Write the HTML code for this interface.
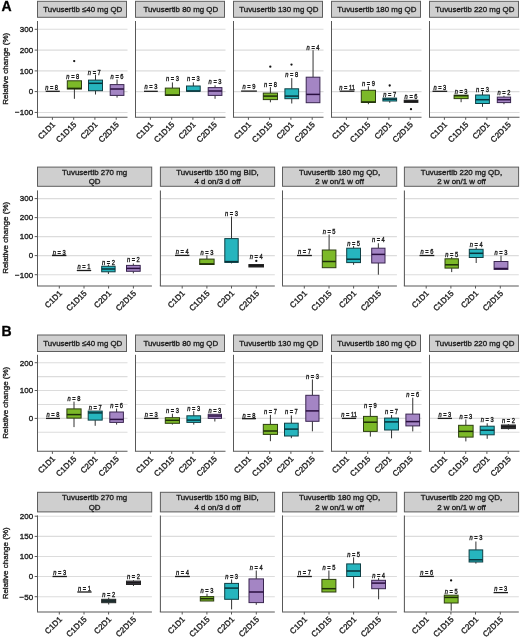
<!DOCTYPE html>
<html><head><meta charset="utf-8"><style>
html,body{margin:0;padding:0;background:#fff;width:520px;height:637px;overflow:hidden}
text{font-family:"Liberation Sans", sans-serif;stroke:#222;stroke-width:0.35px;paint-order:stroke}
</style></head><body>
<svg width="520" height="637" viewBox="0 0 520 637" style="display:block;will-change:transform">
<rect x="0" y="0" width="520" height="637" fill="#ffffff"/>
<text x="1.5" y="10.9" font-family='"Liberation Sans", sans-serif' font-weight="bold" font-size="14" fill="#000">A</text>
<text x="1.5" y="335.9" font-family='"Liberation Sans", sans-serif' font-weight="bold" font-size="14" fill="#000">B</text>
<rect x="37.50" y="1.30" width="89.00" height="16.00" fill="#cfcfcf" stroke="#5e5e5e" stroke-width="1"/>
<text x="82.80" y="11.80" text-anchor="middle" font-family='"Liberation Sans", sans-serif' font-size="7.9" fill="#1e1e1e">Tuvusertib ≤40 mg QD</text>
<line x1="37.50" y1="29.30" x2="127.50" y2="29.30" stroke="#dcdcdc" stroke-width="1.1"/>
<line x1="37.50" y1="50.10" x2="127.50" y2="50.10" stroke="#dcdcdc" stroke-width="1.1"/>
<line x1="37.50" y1="70.90" x2="127.50" y2="70.90" stroke="#dcdcdc" stroke-width="1.1"/>
<line x1="37.50" y1="91.60" x2="127.50" y2="91.60" stroke="#dcdcdc" stroke-width="1.1"/>
<line x1="37.50" y1="112.45" x2="127.50" y2="112.45" stroke="#dcdcdc" stroke-width="1.1"/>
<line x1="45.70" y1="91.30" x2="59.80" y2="91.30" stroke="#1a1a1a" stroke-width="1.3"/>
<text transform="translate(51.60,89.70) scale(0.87,1)" text-anchor="middle" font-family='"Liberation Sans", sans-serif' font-size="6.6" fill="#1e1e1e"><tspan font-style="italic">n</tspan> = 8</text>
<line x1="74.40" y1="89.00" x2="74.40" y2="98.80" stroke="#333" stroke-width="1"/>
<rect x="67.30" y="80.80" width="14.20" height="8.20" fill="#7cb928" stroke="#2c3d10" stroke-width="1"/>
<line x1="67.30" y1="88.40" x2="81.50" y2="88.40" stroke="#1e2e08" stroke-width="1.5"/>
<circle cx="74.20" cy="61.10" r="1.15" fill="#111"/>
<text transform="translate(72.80,79.20) scale(0.87,1)" text-anchor="middle" font-family='"Liberation Sans", sans-serif' font-size="6.6" fill="#1e1e1e"><tspan font-style="italic">n</tspan> = 8</text>
<line x1="95.50" y1="74.60" x2="95.50" y2="80.10" stroke="#333" stroke-width="1"/>
<line x1="95.50" y1="90.70" x2="95.50" y2="94.50" stroke="#333" stroke-width="1"/>
<rect x="88.50" y="80.10" width="14.00" height="10.60" fill="#26b5be" stroke="#0f3f44" stroke-width="1"/>
<line x1="88.50" y1="83.30" x2="102.50" y2="83.30" stroke="#08333a" stroke-width="1.5"/>
<text transform="translate(94.30,74.50) scale(0.87,1)" text-anchor="middle" font-family='"Liberation Sans", sans-serif' font-size="6.6" fill="#1e1e1e"><tspan font-style="italic">n</tspan> = 7</text>
<line x1="117.05" y1="79.40" x2="117.05" y2="84.60" stroke="#333" stroke-width="1"/>
<line x1="117.05" y1="95.40" x2="117.05" y2="97.60" stroke="#333" stroke-width="1"/>
<rect x="110.20" y="84.60" width="13.70" height="10.80" fill="#a485c4" stroke="#3a2650" stroke-width="1"/>
<line x1="110.20" y1="89.00" x2="123.90" y2="89.00" stroke="#2a0f40" stroke-width="1.5"/>
<text transform="translate(117.05,79.20) scale(0.87,1)" text-anchor="middle" font-family='"Liberation Sans", sans-serif' font-size="6.6" fill="#1e1e1e"><tspan font-style="italic">n</tspan> = 6</text>
<line x1="37.50" y1="21.00" x2="37.50" y2="117.20" stroke="#585858" stroke-width="1.05"/>
<line x1="36.95" y1="117.20" x2="127.50" y2="117.20" stroke="#585858" stroke-width="1.05"/>
<line x1="52.40" y1="117.20" x2="52.40" y2="119.80" stroke="#585858" stroke-width="1"/>
<text transform="translate(51.60,121.10) rotate(-45)" text-anchor="end" font-family='"Liberation Sans", sans-serif' font-size="8.05" fill="#1e1e1e" dy="0.72em">C1D1</text>
<line x1="73.70" y1="117.20" x2="73.70" y2="119.80" stroke="#585858" stroke-width="1"/>
<text transform="translate(72.90,121.10) rotate(-45)" text-anchor="end" font-family='"Liberation Sans", sans-serif' font-size="8.05" fill="#1e1e1e" dy="0.72em">C1D15</text>
<line x1="94.90" y1="117.20" x2="94.90" y2="119.80" stroke="#585858" stroke-width="1"/>
<text transform="translate(94.10,121.10) rotate(-45)" text-anchor="end" font-family='"Liberation Sans", sans-serif' font-size="8.05" fill="#1e1e1e" dy="0.72em">C2D1</text>
<line x1="116.20" y1="117.20" x2="116.20" y2="119.80" stroke="#585858" stroke-width="1"/>
<text transform="translate(115.40,121.10) rotate(-45)" text-anchor="end" font-family='"Liberation Sans", sans-serif' font-size="8.05" fill="#1e1e1e" dy="0.72em">C2D15</text>
<line x1="34.70" y1="29.30" x2="37.50" y2="29.30" stroke="#585858" stroke-width="1"/>
<text x="33.10" y="32.15" text-anchor="end" font-family='"Liberation Sans", sans-serif' font-size="8.0" fill="#1e1e1e">300</text>
<line x1="34.70" y1="50.10" x2="37.50" y2="50.10" stroke="#585858" stroke-width="1"/>
<text x="33.10" y="52.95" text-anchor="end" font-family='"Liberation Sans", sans-serif' font-size="8.0" fill="#1e1e1e">200</text>
<line x1="34.70" y1="70.90" x2="37.50" y2="70.90" stroke="#585858" stroke-width="1"/>
<text x="33.10" y="73.75" text-anchor="end" font-family='"Liberation Sans", sans-serif' font-size="8.0" fill="#1e1e1e">100</text>
<line x1="34.70" y1="91.60" x2="37.50" y2="91.60" stroke="#585858" stroke-width="1"/>
<text x="33.10" y="94.45" text-anchor="end" font-family='"Liberation Sans", sans-serif' font-size="8.0" fill="#1e1e1e">0</text>
<line x1="34.70" y1="112.45" x2="37.50" y2="112.45" stroke="#585858" stroke-width="1"/>
<text x="33.10" y="115.30" text-anchor="end" font-family='"Liberation Sans", sans-serif' font-size="8.0" fill="#1e1e1e">−100</text>
<text transform="translate(8.1,68.80) rotate(-90)" text-anchor="middle" font-family='"Liberation Sans", sans-serif' font-size="8.0" fill="#1e1e1e">Relative change (%)</text>
<rect x="135.50" y="1.30" width="89.00" height="16.00" fill="#cfcfcf" stroke="#5e5e5e" stroke-width="1"/>
<text x="180.80" y="11.80" text-anchor="middle" font-family='"Liberation Sans", sans-serif' font-size="7.9" fill="#1e1e1e">Tuvusertib 80 mg QD</text>
<line x1="135.50" y1="29.30" x2="225.50" y2="29.30" stroke="#dcdcdc" stroke-width="1.1"/>
<line x1="135.50" y1="50.10" x2="225.50" y2="50.10" stroke="#dcdcdc" stroke-width="1.1"/>
<line x1="135.50" y1="70.90" x2="225.50" y2="70.90" stroke="#dcdcdc" stroke-width="1.1"/>
<line x1="135.50" y1="91.60" x2="225.50" y2="91.60" stroke="#dcdcdc" stroke-width="1.1"/>
<line x1="135.50" y1="112.45" x2="225.50" y2="112.45" stroke="#dcdcdc" stroke-width="1.1"/>
<line x1="144.00" y1="91.30" x2="157.80" y2="91.30" stroke="#1a1a1a" stroke-width="1.3"/>
<text transform="translate(150.90,89.30) scale(0.87,1)" text-anchor="middle" font-family='"Liberation Sans", sans-serif' font-size="6.6" fill="#1e1e1e"><tspan font-style="italic">n</tspan> = 3</text>
<line x1="172.40" y1="82.40" x2="172.40" y2="88.10" stroke="#333" stroke-width="1"/>
<rect x="165.30" y="88.10" width="14.20" height="7.30" fill="#7cb928" stroke="#2c3d10" stroke-width="1"/>
<line x1="165.30" y1="95.00" x2="179.50" y2="95.00" stroke="#1e2e08" stroke-width="1.5"/>
<text transform="translate(172.40,80.70) scale(0.87,1)" text-anchor="middle" font-family='"Liberation Sans", sans-serif' font-size="6.6" fill="#1e1e1e"><tspan font-style="italic">n</tspan> = 3</text>
<line x1="193.35" y1="82.40" x2="193.35" y2="86.00" stroke="#333" stroke-width="1"/>
<rect x="186.50" y="86.00" width="13.70" height="5.20" fill="#26b5be" stroke="#0f3f44" stroke-width="1"/>
<line x1="186.50" y1="91.00" x2="200.20" y2="91.00" stroke="#08333a" stroke-width="1.5"/>
<text transform="translate(193.35,81.30) scale(0.87,1)" text-anchor="middle" font-family='"Liberation Sans", sans-serif' font-size="6.6" fill="#1e1e1e"><tspan font-style="italic">n</tspan> = 3</text>
<line x1="215.05" y1="85.30" x2="215.05" y2="87.60" stroke="#333" stroke-width="1"/>
<line x1="215.05" y1="95.40" x2="215.05" y2="98.80" stroke="#333" stroke-width="1"/>
<rect x="208.20" y="87.60" width="13.70" height="7.80" fill="#a485c4" stroke="#3a2650" stroke-width="1"/>
<line x1="208.20" y1="91.00" x2="221.90" y2="91.00" stroke="#2a0f40" stroke-width="1.5"/>
<text transform="translate(215.05,84.30) scale(0.87,1)" text-anchor="middle" font-family='"Liberation Sans", sans-serif' font-size="6.6" fill="#1e1e1e"><tspan font-style="italic">n</tspan> = 3</text>
<line x1="135.50" y1="21.00" x2="135.50" y2="117.20" stroke="#585858" stroke-width="1.05"/>
<line x1="134.95" y1="117.20" x2="225.50" y2="117.20" stroke="#585858" stroke-width="1.05"/>
<line x1="150.40" y1="117.20" x2="150.40" y2="119.80" stroke="#585858" stroke-width="1"/>
<text transform="translate(149.60,121.10) rotate(-45)" text-anchor="end" font-family='"Liberation Sans", sans-serif' font-size="8.05" fill="#1e1e1e" dy="0.72em">C1D1</text>
<line x1="171.70" y1="117.20" x2="171.70" y2="119.80" stroke="#585858" stroke-width="1"/>
<text transform="translate(170.90,121.10) rotate(-45)" text-anchor="end" font-family='"Liberation Sans", sans-serif' font-size="8.05" fill="#1e1e1e" dy="0.72em">C1D15</text>
<line x1="192.90" y1="117.20" x2="192.90" y2="119.80" stroke="#585858" stroke-width="1"/>
<text transform="translate(192.10,121.10) rotate(-45)" text-anchor="end" font-family='"Liberation Sans", sans-serif' font-size="8.05" fill="#1e1e1e" dy="0.72em">C2D1</text>
<line x1="214.20" y1="117.20" x2="214.20" y2="119.80" stroke="#585858" stroke-width="1"/>
<text transform="translate(213.40,121.10) rotate(-45)" text-anchor="end" font-family='"Liberation Sans", sans-serif' font-size="8.05" fill="#1e1e1e" dy="0.72em">C2D15</text>
<rect x="233.50" y="1.30" width="89.00" height="16.00" fill="#cfcfcf" stroke="#5e5e5e" stroke-width="1"/>
<text x="278.80" y="11.80" text-anchor="middle" font-family='"Liberation Sans", sans-serif' font-size="7.9" fill="#1e1e1e">Tuvusertib 130 mg QD</text>
<line x1="233.50" y1="29.30" x2="323.50" y2="29.30" stroke="#dcdcdc" stroke-width="1.1"/>
<line x1="233.50" y1="50.10" x2="323.50" y2="50.10" stroke="#dcdcdc" stroke-width="1.1"/>
<line x1="233.50" y1="70.90" x2="323.50" y2="70.90" stroke="#dcdcdc" stroke-width="1.1"/>
<line x1="233.50" y1="91.60" x2="323.50" y2="91.60" stroke="#dcdcdc" stroke-width="1.1"/>
<line x1="233.50" y1="112.45" x2="323.50" y2="112.45" stroke="#dcdcdc" stroke-width="1.1"/>
<line x1="241.10" y1="91.10" x2="256.90" y2="91.10" stroke="#1a1a1a" stroke-width="1.3"/>
<text transform="translate(249.00,89.40) scale(0.87,1)" text-anchor="middle" font-family='"Liberation Sans", sans-serif' font-size="6.6" fill="#1e1e1e"><tspan font-style="italic">n</tspan> = 9</text>
<line x1="270.40" y1="87.10" x2="270.40" y2="93.10" stroke="#333" stroke-width="1"/>
<line x1="270.40" y1="99.60" x2="270.40" y2="102.30" stroke="#333" stroke-width="1"/>
<rect x="263.30" y="93.10" width="14.20" height="6.50" fill="#7cb928" stroke="#2c3d10" stroke-width="1"/>
<line x1="263.30" y1="96.10" x2="277.50" y2="96.10" stroke="#1e2e08" stroke-width="1.5"/>
<circle cx="270.30" cy="66.70" r="1.15" fill="#111"/>
<text transform="translate(270.40,86.50) scale(0.87,1)" text-anchor="middle" font-family='"Liberation Sans", sans-serif' font-size="6.6" fill="#1e1e1e"><tspan font-style="italic">n</tspan> = 8</text>
<line x1="291.75" y1="78.10" x2="291.75" y2="88.80" stroke="#333" stroke-width="1"/>
<line x1="291.75" y1="98.70" x2="291.75" y2="103.50" stroke="#333" stroke-width="1"/>
<rect x="284.90" y="88.80" width="13.70" height="9.90" fill="#26b5be" stroke="#0f3f44" stroke-width="1"/>
<line x1="284.90" y1="96.10" x2="298.60" y2="96.10" stroke="#08333a" stroke-width="1.5"/>
<circle cx="291.50" cy="64.60" r="1.15" fill="#111"/>
<text transform="translate(291.75,76.90) scale(0.87,1)" text-anchor="middle" font-family='"Liberation Sans", sans-serif' font-size="6.6" fill="#1e1e1e"><tspan font-style="italic">n</tspan> = 8</text>
<line x1="313.05" y1="50.20" x2="313.05" y2="77.20" stroke="#333" stroke-width="1"/>
<rect x="306.20" y="77.20" width="13.70" height="25.50" fill="#a485c4" stroke="#3a2650" stroke-width="1"/>
<line x1="306.20" y1="94.40" x2="319.90" y2="94.40" stroke="#2a0f40" stroke-width="1.5"/>
<text transform="translate(313.05,49.60) scale(0.87,1)" text-anchor="middle" font-family='"Liberation Sans", sans-serif' font-size="6.6" fill="#1e1e1e"><tspan font-style="italic">n</tspan> = 4</text>
<line x1="233.50" y1="21.00" x2="233.50" y2="117.20" stroke="#585858" stroke-width="1.05"/>
<line x1="232.95" y1="117.20" x2="323.50" y2="117.20" stroke="#585858" stroke-width="1.05"/>
<line x1="248.40" y1="117.20" x2="248.40" y2="119.80" stroke="#585858" stroke-width="1"/>
<text transform="translate(247.60,121.10) rotate(-45)" text-anchor="end" font-family='"Liberation Sans", sans-serif' font-size="8.05" fill="#1e1e1e" dy="0.72em">C1D1</text>
<line x1="269.70" y1="117.20" x2="269.70" y2="119.80" stroke="#585858" stroke-width="1"/>
<text transform="translate(268.90,121.10) rotate(-45)" text-anchor="end" font-family='"Liberation Sans", sans-serif' font-size="8.05" fill="#1e1e1e" dy="0.72em">C1D15</text>
<line x1="290.90" y1="117.20" x2="290.90" y2="119.80" stroke="#585858" stroke-width="1"/>
<text transform="translate(290.10,121.10) rotate(-45)" text-anchor="end" font-family='"Liberation Sans", sans-serif' font-size="8.05" fill="#1e1e1e" dy="0.72em">C2D1</text>
<line x1="312.20" y1="117.20" x2="312.20" y2="119.80" stroke="#585858" stroke-width="1"/>
<text transform="translate(311.40,121.10) rotate(-45)" text-anchor="end" font-family='"Liberation Sans", sans-serif' font-size="8.05" fill="#1e1e1e" dy="0.72em">C2D15</text>
<rect x="331.50" y="1.30" width="89.00" height="16.00" fill="#cfcfcf" stroke="#5e5e5e" stroke-width="1"/>
<text x="376.80" y="11.80" text-anchor="middle" font-family='"Liberation Sans", sans-serif' font-size="7.9" fill="#1e1e1e">Tuvusertib 180 mg QD</text>
<line x1="331.50" y1="29.30" x2="421.50" y2="29.30" stroke="#dcdcdc" stroke-width="1.1"/>
<line x1="331.50" y1="50.10" x2="421.50" y2="50.10" stroke="#dcdcdc" stroke-width="1.1"/>
<line x1="331.50" y1="70.90" x2="421.50" y2="70.90" stroke="#dcdcdc" stroke-width="1.1"/>
<line x1="331.50" y1="91.60" x2="421.50" y2="91.60" stroke="#dcdcdc" stroke-width="1.1"/>
<line x1="331.50" y1="112.45" x2="421.50" y2="112.45" stroke="#dcdcdc" stroke-width="1.1"/>
<line x1="339.70" y1="91.20" x2="354.40" y2="91.20" stroke="#1a1a1a" stroke-width="1.3"/>
<text transform="translate(347.05,90.00) scale(0.87,1)" text-anchor="middle" font-family='"Liberation Sans", sans-serif' font-size="6.6" fill="#1e1e1e"><tspan font-style="italic">n</tspan> = 11</text>
<line x1="368.40" y1="86.30" x2="368.40" y2="90.30" stroke="#333" stroke-width="1"/>
<line x1="368.40" y1="102.40" x2="368.40" y2="104.20" stroke="#333" stroke-width="1"/>
<rect x="361.30" y="90.30" width="14.20" height="12.10" fill="#7cb928" stroke="#2c3d10" stroke-width="1"/>
<line x1="361.30" y1="102.00" x2="375.50" y2="102.00" stroke="#1e2e08" stroke-width="1.5"/>
<text transform="translate(368.40,86.00) scale(0.87,1)" text-anchor="middle" font-family='"Liberation Sans", sans-serif' font-size="6.6" fill="#1e1e1e"><tspan font-style="italic">n</tspan> = 9</text>
<line x1="389.75" y1="101.00" x2="389.75" y2="102.80" stroke="#333" stroke-width="1"/>
<rect x="382.90" y="98.10" width="13.70" height="2.90" fill="#26b5be" stroke="#0f3f44" stroke-width="1"/>
<line x1="382.90" y1="99.20" x2="396.60" y2="99.20" stroke="#08333a" stroke-width="1.5"/>
<circle cx="389.70" cy="85.50" r="1.15" fill="#111"/>
<text transform="translate(389.75,96.90) scale(0.87,1)" text-anchor="middle" font-family='"Liberation Sans", sans-serif' font-size="6.6" fill="#1e1e1e"><tspan font-style="italic">n</tspan> = 7</text>
<rect x="404.20" y="100.20" width="13.70" height="2.20" fill="#2e2e34" stroke="#262626" stroke-width="1"/>
<line x1="404.20" y1="101.30" x2="417.90" y2="101.30" stroke="#1a1a1a" stroke-width="1.5"/>
<circle cx="411.00" cy="109.20" r="1.15" fill="#111"/>
<text transform="translate(411.05,99.00) scale(0.87,1)" text-anchor="middle" font-family='"Liberation Sans", sans-serif' font-size="6.6" fill="#1e1e1e"><tspan font-style="italic">n</tspan> = 6</text>
<line x1="331.50" y1="21.00" x2="331.50" y2="117.20" stroke="#585858" stroke-width="1.05"/>
<line x1="330.95" y1="117.20" x2="421.50" y2="117.20" stroke="#585858" stroke-width="1.05"/>
<line x1="346.40" y1="117.20" x2="346.40" y2="119.80" stroke="#585858" stroke-width="1"/>
<text transform="translate(345.60,121.10) rotate(-45)" text-anchor="end" font-family='"Liberation Sans", sans-serif' font-size="8.05" fill="#1e1e1e" dy="0.72em">C1D1</text>
<line x1="367.70" y1="117.20" x2="367.70" y2="119.80" stroke="#585858" stroke-width="1"/>
<text transform="translate(366.90,121.10) rotate(-45)" text-anchor="end" font-family='"Liberation Sans", sans-serif' font-size="8.05" fill="#1e1e1e" dy="0.72em">C1D15</text>
<line x1="388.90" y1="117.20" x2="388.90" y2="119.80" stroke="#585858" stroke-width="1"/>
<text transform="translate(388.10,121.10) rotate(-45)" text-anchor="end" font-family='"Liberation Sans", sans-serif' font-size="8.05" fill="#1e1e1e" dy="0.72em">C2D1</text>
<line x1="410.20" y1="117.20" x2="410.20" y2="119.80" stroke="#585858" stroke-width="1"/>
<text transform="translate(409.40,121.10) rotate(-45)" text-anchor="end" font-family='"Liberation Sans", sans-serif' font-size="8.05" fill="#1e1e1e" dy="0.72em">C2D15</text>
<rect x="429.50" y="1.30" width="89.00" height="16.00" fill="#cfcfcf" stroke="#5e5e5e" stroke-width="1"/>
<text x="474.80" y="11.80" text-anchor="middle" font-family='"Liberation Sans", sans-serif' font-size="7.9" fill="#1e1e1e">Tuvusertib 220 mg QD</text>
<line x1="429.50" y1="29.30" x2="519.50" y2="29.30" stroke="#dcdcdc" stroke-width="1.1"/>
<line x1="429.50" y1="50.10" x2="519.50" y2="50.10" stroke="#dcdcdc" stroke-width="1.1"/>
<line x1="429.50" y1="70.90" x2="519.50" y2="70.90" stroke="#dcdcdc" stroke-width="1.1"/>
<line x1="429.50" y1="91.60" x2="519.50" y2="91.60" stroke="#dcdcdc" stroke-width="1.1"/>
<line x1="429.50" y1="112.45" x2="519.50" y2="112.45" stroke="#dcdcdc" stroke-width="1.1"/>
<line x1="432.50" y1="91.30" x2="447.20" y2="91.30" stroke="#1a1a1a" stroke-width="1.3"/>
<text transform="translate(439.85,89.80) scale(0.87,1)" text-anchor="middle" font-family='"Liberation Sans", sans-serif' font-size="6.6" fill="#1e1e1e"><tspan font-style="italic">n</tspan> = 3</text>
<line x1="461.10" y1="98.60" x2="461.10" y2="102.20" stroke="#333" stroke-width="1"/>
<rect x="454.10" y="95.20" width="14.00" height="3.40" fill="#7cb928" stroke="#2c3d10" stroke-width="1"/>
<line x1="454.10" y1="95.70" x2="468.10" y2="95.70" stroke="#1e2e08" stroke-width="1.5"/>
<text transform="translate(461.10,94.10) scale(0.87,1)" text-anchor="middle" font-family='"Liberation Sans", sans-serif' font-size="6.6" fill="#1e1e1e"><tspan font-style="italic">n</tspan> = 3</text>
<line x1="482.50" y1="91.50" x2="482.50" y2="95.00" stroke="#333" stroke-width="1"/>
<line x1="482.50" y1="103.50" x2="482.50" y2="106.80" stroke="#333" stroke-width="1"/>
<rect x="475.60" y="95.00" width="13.80" height="8.50" fill="#26b5be" stroke="#0f3f44" stroke-width="1"/>
<line x1="475.60" y1="99.70" x2="489.40" y2="99.70" stroke="#08333a" stroke-width="1.5"/>
<text transform="translate(482.50,91.50) scale(0.87,1)" text-anchor="middle" font-family='"Liberation Sans", sans-serif' font-size="6.6" fill="#1e1e1e"><tspan font-style="italic">n</tspan> = 3</text>
<line x1="503.95" y1="95.70" x2="503.95" y2="97.10" stroke="#333" stroke-width="1"/>
<line x1="503.95" y1="102.60" x2="503.95" y2="104.20" stroke="#333" stroke-width="1"/>
<rect x="497.30" y="97.10" width="13.30" height="5.50" fill="#a485c4" stroke="#3a2650" stroke-width="1"/>
<line x1="497.30" y1="99.70" x2="510.60" y2="99.70" stroke="#2a0f40" stroke-width="1.5"/>
<text transform="translate(503.95,95.20) scale(0.87,1)" text-anchor="middle" font-family='"Liberation Sans", sans-serif' font-size="6.6" fill="#1e1e1e"><tspan font-style="italic">n</tspan> = 2</text>
<line x1="429.50" y1="21.00" x2="429.50" y2="117.20" stroke="#585858" stroke-width="1.05"/>
<line x1="428.95" y1="117.20" x2="519.50" y2="117.20" stroke="#585858" stroke-width="1.05"/>
<line x1="444.40" y1="117.20" x2="444.40" y2="119.80" stroke="#585858" stroke-width="1"/>
<text transform="translate(443.60,121.10) rotate(-45)" text-anchor="end" font-family='"Liberation Sans", sans-serif' font-size="8.05" fill="#1e1e1e" dy="0.72em">C1D1</text>
<line x1="465.70" y1="117.20" x2="465.70" y2="119.80" stroke="#585858" stroke-width="1"/>
<text transform="translate(464.90,121.10) rotate(-45)" text-anchor="end" font-family='"Liberation Sans", sans-serif' font-size="8.05" fill="#1e1e1e" dy="0.72em">C1D15</text>
<line x1="486.90" y1="117.20" x2="486.90" y2="119.80" stroke="#585858" stroke-width="1"/>
<text transform="translate(486.10,121.10) rotate(-45)" text-anchor="end" font-family='"Liberation Sans", sans-serif' font-size="8.05" fill="#1e1e1e" dy="0.72em">C2D1</text>
<line x1="508.20" y1="117.20" x2="508.20" y2="119.80" stroke="#585858" stroke-width="1"/>
<text transform="translate(507.40,121.10) rotate(-45)" text-anchor="end" font-family='"Liberation Sans", sans-serif' font-size="8.05" fill="#1e1e1e" dy="0.72em">C2D15</text>
<rect x="37.50" y="167.10" width="114.20" height="19.20" fill="#cfcfcf" stroke="#5e5e5e" stroke-width="1"/>
<text x="94.60" y="174.90" text-anchor="middle" font-family='"Liberation Sans", sans-serif' font-size="7.9" fill="#1e1e1e">Tuvusertib 270 mg</text>
<text x="94.60" y="184.30" text-anchor="middle" font-family='"Liberation Sans", sans-serif' font-size="7.9" fill="#1e1e1e">QD</text>
<line x1="37.50" y1="198.60" x2="151.90" y2="198.60" stroke="#dcdcdc" stroke-width="1.1"/>
<line x1="37.50" y1="217.60" x2="151.90" y2="217.60" stroke="#dcdcdc" stroke-width="1.1"/>
<line x1="37.50" y1="236.60" x2="151.90" y2="236.60" stroke="#dcdcdc" stroke-width="1.1"/>
<line x1="37.50" y1="255.60" x2="151.90" y2="255.60" stroke="#dcdcdc" stroke-width="1.1"/>
<line x1="37.50" y1="274.70" x2="151.90" y2="274.70" stroke="#dcdcdc" stroke-width="1.1"/>
<line x1="52.00" y1="255.50" x2="66.40" y2="255.50" stroke="#1a1a1a" stroke-width="1.3"/>
<text transform="translate(59.20,254.50) scale(0.87,1)" text-anchor="middle" font-family='"Liberation Sans", sans-serif' font-size="6.6" fill="#1e1e1e"><tspan font-style="italic">n</tspan> = 3</text>
<line x1="76.80" y1="270.50" x2="91.20" y2="270.50" stroke="#1a1a1a" stroke-width="1.3"/>
<text transform="translate(84.00,269.30) scale(0.87,1)" text-anchor="middle" font-family='"Liberation Sans", sans-serif' font-size="6.6" fill="#1e1e1e"><tspan font-style="italic">n</tspan> = 1</text>
<line x1="108.40" y1="264.60" x2="108.40" y2="266.30" stroke="#333" stroke-width="1"/>
<line x1="108.40" y1="271.80" x2="108.40" y2="274.00" stroke="#333" stroke-width="1"/>
<rect x="101.70" y="266.30" width="13.40" height="5.50" fill="#26b5be" stroke="#0f3f44" stroke-width="1"/>
<line x1="101.70" y1="269.00" x2="115.10" y2="269.00" stroke="#08333a" stroke-width="1.5"/>
<text transform="translate(108.40,264.60) scale(0.87,1)" text-anchor="middle" font-family='"Liberation Sans", sans-serif' font-size="6.6" fill="#1e1e1e"><tspan font-style="italic">n</tspan> = 2</text>
<line x1="133.35" y1="263.50" x2="133.35" y2="265.40" stroke="#333" stroke-width="1"/>
<line x1="133.35" y1="271.30" x2="133.35" y2="273.30" stroke="#333" stroke-width="1"/>
<rect x="126.50" y="265.40" width="13.70" height="5.90" fill="#a485c4" stroke="#3a2650" stroke-width="1"/>
<line x1="126.50" y1="268.40" x2="140.20" y2="268.40" stroke="#2a0f40" stroke-width="1.5"/>
<text transform="translate(133.35,262.10) scale(0.87,1)" text-anchor="middle" font-family='"Liberation Sans", sans-serif' font-size="6.6" fill="#1e1e1e"><tspan font-style="italic">n</tspan> = 2</text>
<line x1="37.50" y1="190.40" x2="37.50" y2="285.90" stroke="#585858" stroke-width="1.05"/>
<line x1="36.95" y1="285.90" x2="151.90" y2="285.90" stroke="#585858" stroke-width="1.05"/>
<line x1="59.30" y1="285.90" x2="59.30" y2="288.50" stroke="#585858" stroke-width="1"/>
<text transform="translate(58.50,289.80) rotate(-45)" text-anchor="end" font-family='"Liberation Sans", sans-serif' font-size="8.05" fill="#1e1e1e" dy="0.72em">C1D1</text>
<line x1="84.00" y1="285.90" x2="84.00" y2="288.50" stroke="#585858" stroke-width="1"/>
<text transform="translate(83.20,289.80) rotate(-45)" text-anchor="end" font-family='"Liberation Sans", sans-serif' font-size="8.05" fill="#1e1e1e" dy="0.72em">C1D15</text>
<line x1="108.60" y1="285.90" x2="108.60" y2="288.50" stroke="#585858" stroke-width="1"/>
<text transform="translate(107.80,289.80) rotate(-45)" text-anchor="end" font-family='"Liberation Sans", sans-serif' font-size="8.05" fill="#1e1e1e" dy="0.72em">C2D1</text>
<line x1="133.40" y1="285.90" x2="133.40" y2="288.50" stroke="#585858" stroke-width="1"/>
<text transform="translate(132.60,289.80) rotate(-45)" text-anchor="end" font-family='"Liberation Sans", sans-serif' font-size="8.05" fill="#1e1e1e" dy="0.72em">C2D15</text>
<line x1="34.70" y1="198.60" x2="37.50" y2="198.60" stroke="#585858" stroke-width="1"/>
<text x="33.10" y="201.45" text-anchor="end" font-family='"Liberation Sans", sans-serif' font-size="8.0" fill="#1e1e1e">300</text>
<line x1="34.70" y1="217.60" x2="37.50" y2="217.60" stroke="#585858" stroke-width="1"/>
<text x="33.10" y="220.45" text-anchor="end" font-family='"Liberation Sans", sans-serif' font-size="8.0" fill="#1e1e1e">200</text>
<line x1="34.70" y1="236.60" x2="37.50" y2="236.60" stroke="#585858" stroke-width="1"/>
<text x="33.10" y="239.45" text-anchor="end" font-family='"Liberation Sans", sans-serif' font-size="8.0" fill="#1e1e1e">100</text>
<line x1="34.70" y1="255.60" x2="37.50" y2="255.60" stroke="#585858" stroke-width="1"/>
<text x="33.10" y="258.45" text-anchor="end" font-family='"Liberation Sans", sans-serif' font-size="8.0" fill="#1e1e1e">0</text>
<line x1="34.70" y1="274.70" x2="37.50" y2="274.70" stroke="#585858" stroke-width="1"/>
<text x="33.10" y="277.55" text-anchor="end" font-family='"Liberation Sans", sans-serif' font-size="8.0" fill="#1e1e1e">−100</text>
<text transform="translate(8.1,237.85) rotate(-90)" text-anchor="middle" font-family='"Liberation Sans", sans-serif' font-size="8.0" fill="#1e1e1e">Relative change (%)</text>
<rect x="160.40" y="167.10" width="114.20" height="19.20" fill="#cfcfcf" stroke="#5e5e5e" stroke-width="1"/>
<text x="217.50" y="174.90" text-anchor="middle" font-family='"Liberation Sans", sans-serif' font-size="7.9" fill="#1e1e1e">Tuvusertib 150 mg BID,</text>
<text x="217.50" y="184.30" text-anchor="middle" font-family='"Liberation Sans", sans-serif' font-size="7.9" fill="#1e1e1e">4 d on/3 d off</text>
<line x1="160.40" y1="198.60" x2="274.80" y2="198.60" stroke="#dcdcdc" stroke-width="1.1"/>
<line x1="160.40" y1="217.60" x2="274.80" y2="217.60" stroke="#dcdcdc" stroke-width="1.1"/>
<line x1="160.40" y1="236.60" x2="274.80" y2="236.60" stroke="#dcdcdc" stroke-width="1.1"/>
<line x1="160.40" y1="255.60" x2="274.80" y2="255.60" stroke="#dcdcdc" stroke-width="1.1"/>
<line x1="160.40" y1="274.70" x2="274.80" y2="274.70" stroke="#dcdcdc" stroke-width="1.1"/>
<line x1="175.00" y1="255.40" x2="189.40" y2="255.40" stroke="#1a1a1a" stroke-width="1.3"/>
<text transform="translate(182.20,254.20) scale(0.87,1)" text-anchor="middle" font-family='"Liberation Sans", sans-serif' font-size="6.6" fill="#1e1e1e"><tspan font-style="italic">n</tspan> = 4</text>
<line x1="206.90" y1="255.10" x2="206.90" y2="259.10" stroke="#333" stroke-width="1"/>
<rect x="199.70" y="259.10" width="14.40" height="5.40" fill="#7cb928" stroke="#2c3d10" stroke-width="1"/>
<line x1="199.70" y1="263.90" x2="214.10" y2="263.90" stroke="#1e2e08" stroke-width="1.5"/>
<text transform="translate(206.90,255.20) scale(0.87,1)" text-anchor="middle" font-family='"Liberation Sans", sans-serif' font-size="6.6" fill="#1e1e1e"><tspan font-style="italic">n</tspan> = 3</text>
<line x1="231.50" y1="216.50" x2="231.50" y2="238.60" stroke="#333" stroke-width="1"/>
<line x1="231.50" y1="262.40" x2="231.50" y2="263.40" stroke="#333" stroke-width="1"/>
<rect x="224.80" y="238.60" width="13.40" height="23.80" fill="#26b5be" stroke="#0f3f44" stroke-width="1"/>
<line x1="224.80" y1="261.60" x2="238.20" y2="261.60" stroke="#08333a" stroke-width="1.5"/>
<text transform="translate(231.50,216.10) scale(0.87,1)" text-anchor="middle" font-family='"Liberation Sans", sans-serif' font-size="6.6" fill="#1e1e1e"><tspan font-style="italic">n</tspan> = 3</text>
<rect x="248.90" y="264.50" width="14.60" height="2.50" fill="#2e2e34" stroke="#262626" stroke-width="1"/>
<line x1="248.90" y1="265.70" x2="263.50" y2="265.70" stroke="#1a1a1a" stroke-width="1.5"/>
<circle cx="256.30" cy="260.90" r="1.15" fill="#111"/>
<text transform="translate(256.20,259.30) scale(0.87,1)" text-anchor="middle" font-family='"Liberation Sans", sans-serif' font-size="6.6" fill="#1e1e1e"><tspan font-style="italic">n</tspan> = 4</text>
<line x1="160.40" y1="190.40" x2="160.40" y2="285.90" stroke="#585858" stroke-width="1.05"/>
<line x1="159.85" y1="285.90" x2="274.80" y2="285.90" stroke="#585858" stroke-width="1.05"/>
<line x1="182.20" y1="285.90" x2="182.20" y2="288.50" stroke="#585858" stroke-width="1"/>
<text transform="translate(181.40,289.80) rotate(-45)" text-anchor="end" font-family='"Liberation Sans", sans-serif' font-size="8.05" fill="#1e1e1e" dy="0.72em">C1D1</text>
<line x1="206.90" y1="285.90" x2="206.90" y2="288.50" stroke="#585858" stroke-width="1"/>
<text transform="translate(206.10,289.80) rotate(-45)" text-anchor="end" font-family='"Liberation Sans", sans-serif' font-size="8.05" fill="#1e1e1e" dy="0.72em">C1D15</text>
<line x1="231.50" y1="285.90" x2="231.50" y2="288.50" stroke="#585858" stroke-width="1"/>
<text transform="translate(230.70,289.80) rotate(-45)" text-anchor="end" font-family='"Liberation Sans", sans-serif' font-size="8.05" fill="#1e1e1e" dy="0.72em">C2D1</text>
<line x1="256.30" y1="285.90" x2="256.30" y2="288.50" stroke="#585858" stroke-width="1"/>
<text transform="translate(255.50,289.80) rotate(-45)" text-anchor="end" font-family='"Liberation Sans", sans-serif' font-size="8.05" fill="#1e1e1e" dy="0.72em">C2D15</text>
<rect x="282.50" y="167.10" width="114.20" height="19.20" fill="#cfcfcf" stroke="#5e5e5e" stroke-width="1"/>
<text x="339.60" y="174.90" text-anchor="middle" font-family='"Liberation Sans", sans-serif' font-size="7.9" fill="#1e1e1e">Tuvusertib 180 mg QD,</text>
<text x="339.60" y="184.30" text-anchor="middle" font-family='"Liberation Sans", sans-serif' font-size="7.9" fill="#1e1e1e">2 w on/1 w off</text>
<line x1="282.50" y1="198.60" x2="396.90" y2="198.60" stroke="#dcdcdc" stroke-width="1.1"/>
<line x1="282.50" y1="217.60" x2="396.90" y2="217.60" stroke="#dcdcdc" stroke-width="1.1"/>
<line x1="282.50" y1="236.60" x2="396.90" y2="236.60" stroke="#dcdcdc" stroke-width="1.1"/>
<line x1="282.50" y1="255.60" x2="396.90" y2="255.60" stroke="#dcdcdc" stroke-width="1.1"/>
<line x1="282.50" y1="274.70" x2="396.90" y2="274.70" stroke="#dcdcdc" stroke-width="1.1"/>
<line x1="297.00" y1="255.50" x2="311.90" y2="255.50" stroke="#1a1a1a" stroke-width="1.3"/>
<text transform="translate(304.45,253.80) scale(0.87,1)" text-anchor="middle" font-family='"Liberation Sans", sans-serif' font-size="6.6" fill="#1e1e1e"><tspan font-style="italic">n</tspan> = 7</text>
<line x1="329.10" y1="234.50" x2="329.10" y2="250.00" stroke="#333" stroke-width="1"/>
<rect x="322.30" y="250.00" width="13.60" height="17.70" fill="#7cb928" stroke="#2c3d10" stroke-width="1"/>
<line x1="322.30" y1="261.50" x2="335.90" y2="261.50" stroke="#1e2e08" stroke-width="1.5"/>
<text transform="translate(329.10,233.50) scale(0.87,1)" text-anchor="middle" font-family='"Liberation Sans", sans-serif' font-size="6.6" fill="#1e1e1e"><tspan font-style="italic">n</tspan> = 5</text>
<line x1="353.60" y1="246.00" x2="353.60" y2="248.20" stroke="#333" stroke-width="1"/>
<line x1="353.60" y1="262.60" x2="353.60" y2="264.80" stroke="#333" stroke-width="1"/>
<rect x="346.70" y="248.20" width="13.80" height="14.40" fill="#26b5be" stroke="#0f3f44" stroke-width="1"/>
<line x1="346.70" y1="259.20" x2="360.50" y2="259.20" stroke="#08333a" stroke-width="1.5"/>
<text transform="translate(353.60,245.60) scale(0.87,1)" text-anchor="middle" font-family='"Liberation Sans", sans-serif' font-size="6.6" fill="#1e1e1e"><tspan font-style="italic">n</tspan> = 5</text>
<line x1="378.35" y1="243.30" x2="378.35" y2="248.20" stroke="#333" stroke-width="1"/>
<line x1="378.35" y1="263.00" x2="378.35" y2="274.70" stroke="#333" stroke-width="1"/>
<rect x="371.70" y="248.20" width="13.30" height="14.80" fill="#a485c4" stroke="#3a2650" stroke-width="1"/>
<line x1="371.70" y1="254.40" x2="385.00" y2="254.40" stroke="#2a0f40" stroke-width="1.5"/>
<text transform="translate(378.35,242.30) scale(0.87,1)" text-anchor="middle" font-family='"Liberation Sans", sans-serif' font-size="6.6" fill="#1e1e1e"><tspan font-style="italic">n</tspan> = 4</text>
<line x1="282.50" y1="190.40" x2="282.50" y2="285.90" stroke="#585858" stroke-width="1.05"/>
<line x1="281.95" y1="285.90" x2="396.90" y2="285.90" stroke="#585858" stroke-width="1.05"/>
<line x1="304.30" y1="285.90" x2="304.30" y2="288.50" stroke="#585858" stroke-width="1"/>
<text transform="translate(303.50,289.80) rotate(-45)" text-anchor="end" font-family='"Liberation Sans", sans-serif' font-size="8.05" fill="#1e1e1e" dy="0.72em">C1D1</text>
<line x1="329.00" y1="285.90" x2="329.00" y2="288.50" stroke="#585858" stroke-width="1"/>
<text transform="translate(328.20,289.80) rotate(-45)" text-anchor="end" font-family='"Liberation Sans", sans-serif' font-size="8.05" fill="#1e1e1e" dy="0.72em">C1D15</text>
<line x1="353.60" y1="285.90" x2="353.60" y2="288.50" stroke="#585858" stroke-width="1"/>
<text transform="translate(352.80,289.80) rotate(-45)" text-anchor="end" font-family='"Liberation Sans", sans-serif' font-size="8.05" fill="#1e1e1e" dy="0.72em">C2D1</text>
<line x1="378.40" y1="285.90" x2="378.40" y2="288.50" stroke="#585858" stroke-width="1"/>
<text transform="translate(377.60,289.80) rotate(-45)" text-anchor="end" font-family='"Liberation Sans", sans-serif' font-size="8.05" fill="#1e1e1e" dy="0.72em">C2D15</text>
<rect x="404.40" y="167.10" width="114.20" height="19.20" fill="#cfcfcf" stroke="#5e5e5e" stroke-width="1"/>
<text x="461.50" y="174.90" text-anchor="middle" font-family='"Liberation Sans", sans-serif' font-size="7.9" fill="#1e1e1e">Tuvusertib 220 mg QD,</text>
<text x="461.50" y="184.30" text-anchor="middle" font-family='"Liberation Sans", sans-serif' font-size="7.9" fill="#1e1e1e">2 w on/1 w off</text>
<line x1="404.40" y1="198.60" x2="518.80" y2="198.60" stroke="#dcdcdc" stroke-width="1.1"/>
<line x1="404.40" y1="217.60" x2="518.80" y2="217.60" stroke="#dcdcdc" stroke-width="1.1"/>
<line x1="404.40" y1="236.60" x2="518.80" y2="236.60" stroke="#dcdcdc" stroke-width="1.1"/>
<line x1="404.40" y1="255.60" x2="518.80" y2="255.60" stroke="#dcdcdc" stroke-width="1.1"/>
<line x1="404.40" y1="274.70" x2="518.80" y2="274.70" stroke="#dcdcdc" stroke-width="1.1"/>
<line x1="419.50" y1="255.50" x2="434.30" y2="255.50" stroke="#1a1a1a" stroke-width="1.3"/>
<text transform="translate(426.90,253.80) scale(0.87,1)" text-anchor="middle" font-family='"Liberation Sans", sans-serif' font-size="6.6" fill="#1e1e1e"><tspan font-style="italic">n</tspan> = 6</text>
<line x1="451.70" y1="257.00" x2="451.70" y2="258.80" stroke="#333" stroke-width="1"/>
<line x1="451.70" y1="268.10" x2="451.70" y2="272.10" stroke="#333" stroke-width="1"/>
<rect x="445.00" y="258.80" width="13.40" height="9.30" fill="#7cb928" stroke="#2c3d10" stroke-width="1"/>
<line x1="445.00" y1="264.80" x2="458.40" y2="264.80" stroke="#1e2e08" stroke-width="1.5"/>
<text transform="translate(451.70,257.10) scale(0.87,1)" text-anchor="middle" font-family='"Liberation Sans", sans-serif' font-size="6.6" fill="#1e1e1e"><tspan font-style="italic">n</tspan> = 5</text>
<line x1="476.20" y1="247.10" x2="476.20" y2="249.30" stroke="#333" stroke-width="1"/>
<line x1="476.20" y1="257.50" x2="476.20" y2="263.00" stroke="#333" stroke-width="1"/>
<rect x="469.30" y="249.30" width="13.80" height="8.20" fill="#26b5be" stroke="#0f3f44" stroke-width="1"/>
<line x1="469.30" y1="253.30" x2="483.10" y2="253.30" stroke="#08333a" stroke-width="1.5"/>
<text transform="translate(476.20,246.70) scale(0.87,1)" text-anchor="middle" font-family='"Liberation Sans", sans-serif' font-size="6.6" fill="#1e1e1e"><tspan font-style="italic">n</tspan> = 4</text>
<line x1="501.00" y1="255.50" x2="501.00" y2="261.50" stroke="#333" stroke-width="1"/>
<rect x="494.10" y="261.50" width="13.80" height="7.90" fill="#a485c4" stroke="#3a2650" stroke-width="1"/>
<line x1="494.10" y1="268.50" x2="507.90" y2="268.50" stroke="#2a0f40" stroke-width="1.5"/>
<text transform="translate(501.00,254.50) scale(0.87,1)" text-anchor="middle" font-family='"Liberation Sans", sans-serif' font-size="6.6" fill="#1e1e1e"><tspan font-style="italic">n</tspan> = 3</text>
<line x1="404.40" y1="190.40" x2="404.40" y2="285.90" stroke="#585858" stroke-width="1.05"/>
<line x1="403.85" y1="285.90" x2="518.80" y2="285.90" stroke="#585858" stroke-width="1.05"/>
<line x1="426.20" y1="285.90" x2="426.20" y2="288.50" stroke="#585858" stroke-width="1"/>
<text transform="translate(425.40,289.80) rotate(-45)" text-anchor="end" font-family='"Liberation Sans", sans-serif' font-size="8.05" fill="#1e1e1e" dy="0.72em">C1D1</text>
<line x1="450.90" y1="285.90" x2="450.90" y2="288.50" stroke="#585858" stroke-width="1"/>
<text transform="translate(450.10,289.80) rotate(-45)" text-anchor="end" font-family='"Liberation Sans", sans-serif' font-size="8.05" fill="#1e1e1e" dy="0.72em">C1D15</text>
<line x1="475.50" y1="285.90" x2="475.50" y2="288.50" stroke="#585858" stroke-width="1"/>
<text transform="translate(474.70,289.80) rotate(-45)" text-anchor="end" font-family='"Liberation Sans", sans-serif' font-size="8.05" fill="#1e1e1e" dy="0.72em">C2D1</text>
<line x1="500.30" y1="285.90" x2="500.30" y2="288.50" stroke="#585858" stroke-width="1"/>
<text transform="translate(499.50,289.80) rotate(-45)" text-anchor="end" font-family='"Liberation Sans", sans-serif' font-size="8.05" fill="#1e1e1e" dy="0.72em">C2D15</text>
<rect x="37.50" y="335.00" width="89.00" height="16.50" fill="#cfcfcf" stroke="#5e5e5e" stroke-width="1"/>
<text x="82.80" y="345.75" text-anchor="middle" font-family='"Liberation Sans", sans-serif' font-size="7.9" fill="#1e1e1e">Tuvusertib ≤40 mg QD</text>
<line x1="37.50" y1="362.70" x2="127.50" y2="362.70" stroke="#dcdcdc" stroke-width="1.1"/>
<line x1="37.50" y1="390.50" x2="127.50" y2="390.50" stroke="#dcdcdc" stroke-width="1.1"/>
<line x1="37.50" y1="418.40" x2="127.50" y2="418.40" stroke="#dcdcdc" stroke-width="1.1"/>
<line x1="37.50" y1="376.60" x2="127.50" y2="376.60" stroke="#dcdcdc" stroke-width="1.1"/>
<line x1="37.50" y1="404.50" x2="127.50" y2="404.50" stroke="#dcdcdc" stroke-width="1.1"/>
<line x1="37.50" y1="432.30" x2="127.50" y2="432.30" stroke="#dcdcdc" stroke-width="1.1"/>
<line x1="46.00" y1="418.40" x2="60.00" y2="418.40" stroke="#1a1a1a" stroke-width="1.3"/>
<text transform="translate(53.00,416.90) scale(0.87,1)" text-anchor="middle" font-family='"Liberation Sans", sans-serif' font-size="6.6" fill="#1e1e1e"><tspan font-style="italic">n</tspan> = 8</text>
<line x1="74.00" y1="401.60" x2="74.00" y2="408.90" stroke="#333" stroke-width="1"/>
<line x1="74.00" y1="418.10" x2="74.00" y2="427.10" stroke="#333" stroke-width="1"/>
<rect x="66.90" y="408.90" width="14.20" height="9.20" fill="#7cb928" stroke="#2c3d10" stroke-width="1"/>
<line x1="66.90" y1="414.60" x2="81.10" y2="414.60" stroke="#1e2e08" stroke-width="1.5"/>
<text transform="translate(74.00,400.50) scale(0.87,1)" text-anchor="middle" font-family='"Liberation Sans", sans-serif' font-size="6.6" fill="#1e1e1e"><tspan font-style="italic">n</tspan> = 8</text>
<line x1="95.20" y1="420.10" x2="95.20" y2="425.80" stroke="#333" stroke-width="1"/>
<rect x="88.20" y="411.10" width="14.00" height="9.00" fill="#26b5be" stroke="#0f3f44" stroke-width="1"/>
<line x1="88.20" y1="412.90" x2="102.20" y2="412.90" stroke="#08333a" stroke-width="1.5"/>
<text transform="translate(95.20,410.00) scale(0.87,1)" text-anchor="middle" font-family='"Liberation Sans", sans-serif' font-size="6.6" fill="#1e1e1e"><tspan font-style="italic">n</tspan> = 7</text>
<line x1="116.60" y1="408.50" x2="116.60" y2="412.00" stroke="#333" stroke-width="1"/>
<line x1="116.60" y1="422.40" x2="116.60" y2="424.60" stroke="#333" stroke-width="1"/>
<rect x="109.80" y="412.00" width="13.60" height="10.40" fill="#a485c4" stroke="#3a2650" stroke-width="1"/>
<line x1="109.80" y1="419.40" x2="123.40" y2="419.40" stroke="#2a0f40" stroke-width="1.5"/>
<text transform="translate(116.60,408.30) scale(0.87,1)" text-anchor="middle" font-family='"Liberation Sans", sans-serif' font-size="6.6" fill="#1e1e1e"><tspan font-style="italic">n</tspan> = 6</text>
<line x1="37.50" y1="354.80" x2="37.50" y2="451.30" stroke="#585858" stroke-width="1.05"/>
<line x1="36.95" y1="451.30" x2="127.50" y2="451.30" stroke="#585858" stroke-width="1.05"/>
<line x1="52.40" y1="451.30" x2="52.40" y2="453.90" stroke="#585858" stroke-width="1"/>
<text transform="translate(51.60,455.20) rotate(-45)" text-anchor="end" font-family='"Liberation Sans", sans-serif' font-size="8.05" fill="#1e1e1e" dy="0.72em">C1D1</text>
<line x1="73.70" y1="451.30" x2="73.70" y2="453.90" stroke="#585858" stroke-width="1"/>
<text transform="translate(72.90,455.20) rotate(-45)" text-anchor="end" font-family='"Liberation Sans", sans-serif' font-size="8.05" fill="#1e1e1e" dy="0.72em">C1D15</text>
<line x1="94.90" y1="451.30" x2="94.90" y2="453.90" stroke="#585858" stroke-width="1"/>
<text transform="translate(94.10,455.20) rotate(-45)" text-anchor="end" font-family='"Liberation Sans", sans-serif' font-size="8.05" fill="#1e1e1e" dy="0.72em">C2D1</text>
<line x1="116.20" y1="451.30" x2="116.20" y2="453.90" stroke="#585858" stroke-width="1"/>
<text transform="translate(115.40,455.20) rotate(-45)" text-anchor="end" font-family='"Liberation Sans", sans-serif' font-size="8.05" fill="#1e1e1e" dy="0.72em">C2D15</text>
<line x1="34.70" y1="362.70" x2="37.50" y2="362.70" stroke="#585858" stroke-width="1"/>
<text x="33.10" y="365.55" text-anchor="end" font-family='"Liberation Sans", sans-serif' font-size="8.0" fill="#1e1e1e">200</text>
<line x1="34.70" y1="390.50" x2="37.50" y2="390.50" stroke="#585858" stroke-width="1"/>
<text x="33.10" y="393.35" text-anchor="end" font-family='"Liberation Sans", sans-serif' font-size="8.0" fill="#1e1e1e">100</text>
<line x1="34.70" y1="418.40" x2="37.50" y2="418.40" stroke="#585858" stroke-width="1"/>
<text x="33.10" y="421.25" text-anchor="end" font-family='"Liberation Sans", sans-serif' font-size="8.0" fill="#1e1e1e">0</text>
<text transform="translate(8.1,402.75) rotate(-90)" text-anchor="middle" font-family='"Liberation Sans", sans-serif' font-size="8.0" fill="#1e1e1e">Relative change (%)</text>
<rect x="135.50" y="335.00" width="89.00" height="16.50" fill="#cfcfcf" stroke="#5e5e5e" stroke-width="1"/>
<text x="180.80" y="345.75" text-anchor="middle" font-family='"Liberation Sans", sans-serif' font-size="7.9" fill="#1e1e1e">Tuvusertib 80 mg QD</text>
<line x1="135.50" y1="362.70" x2="225.50" y2="362.70" stroke="#dcdcdc" stroke-width="1.1"/>
<line x1="135.50" y1="390.50" x2="225.50" y2="390.50" stroke="#dcdcdc" stroke-width="1.1"/>
<line x1="135.50" y1="418.40" x2="225.50" y2="418.40" stroke="#dcdcdc" stroke-width="1.1"/>
<line x1="135.50" y1="376.60" x2="225.50" y2="376.60" stroke="#dcdcdc" stroke-width="1.1"/>
<line x1="135.50" y1="404.50" x2="225.50" y2="404.50" stroke="#dcdcdc" stroke-width="1.1"/>
<line x1="135.50" y1="432.30" x2="225.50" y2="432.30" stroke="#dcdcdc" stroke-width="1.1"/>
<line x1="144.00" y1="418.40" x2="158.40" y2="418.40" stroke="#1a1a1a" stroke-width="1.3"/>
<text transform="translate(151.20,416.90) scale(0.87,1)" text-anchor="middle" font-family='"Liberation Sans", sans-serif' font-size="6.6" fill="#1e1e1e"><tspan font-style="italic">n</tspan> = 3</text>
<line x1="172.40" y1="413.70" x2="172.40" y2="417.70" stroke="#333" stroke-width="1"/>
<line x1="172.40" y1="423.30" x2="172.40" y2="424.60" stroke="#333" stroke-width="1"/>
<rect x="165.30" y="417.70" width="14.20" height="5.60" fill="#7cb928" stroke="#2c3d10" stroke-width="1"/>
<line x1="165.30" y1="420.30" x2="179.50" y2="420.30" stroke="#1e2e08" stroke-width="1.5"/>
<text transform="translate(172.40,413.10) scale(0.87,1)" text-anchor="middle" font-family='"Liberation Sans", sans-serif' font-size="6.6" fill="#1e1e1e"><tspan font-style="italic">n</tspan> = 3</text>
<line x1="193.75" y1="411.10" x2="193.75" y2="415.80" stroke="#333" stroke-width="1"/>
<line x1="193.75" y1="422.40" x2="193.75" y2="424.60" stroke="#333" stroke-width="1"/>
<rect x="186.90" y="415.80" width="13.70" height="6.60" fill="#26b5be" stroke="#0f3f44" stroke-width="1"/>
<line x1="186.90" y1="420.10" x2="200.60" y2="420.10" stroke="#08333a" stroke-width="1.5"/>
<text transform="translate(193.75,410.80) scale(0.87,1)" text-anchor="middle" font-family='"Liberation Sans", sans-serif' font-size="6.6" fill="#1e1e1e"><tspan font-style="italic">n</tspan> = 3</text>
<line x1="214.85" y1="418.40" x2="214.85" y2="421.50" stroke="#333" stroke-width="1"/>
<rect x="208.20" y="414.30" width="13.30" height="4.10" fill="#a485c4" stroke="#3a2650" stroke-width="1"/>
<line x1="208.20" y1="416.00" x2="221.50" y2="416.00" stroke="#2a0f40" stroke-width="1.5"/>
<text transform="translate(214.85,413.10) scale(0.87,1)" text-anchor="middle" font-family='"Liberation Sans", sans-serif' font-size="6.6" fill="#1e1e1e"><tspan font-style="italic">n</tspan> = 3</text>
<line x1="135.50" y1="354.80" x2="135.50" y2="451.30" stroke="#585858" stroke-width="1.05"/>
<line x1="134.95" y1="451.30" x2="225.50" y2="451.30" stroke="#585858" stroke-width="1.05"/>
<line x1="150.40" y1="451.30" x2="150.40" y2="453.90" stroke="#585858" stroke-width="1"/>
<text transform="translate(149.60,455.20) rotate(-45)" text-anchor="end" font-family='"Liberation Sans", sans-serif' font-size="8.05" fill="#1e1e1e" dy="0.72em">C1D1</text>
<line x1="171.70" y1="451.30" x2="171.70" y2="453.90" stroke="#585858" stroke-width="1"/>
<text transform="translate(170.90,455.20) rotate(-45)" text-anchor="end" font-family='"Liberation Sans", sans-serif' font-size="8.05" fill="#1e1e1e" dy="0.72em">C1D15</text>
<line x1="192.90" y1="451.30" x2="192.90" y2="453.90" stroke="#585858" stroke-width="1"/>
<text transform="translate(192.10,455.20) rotate(-45)" text-anchor="end" font-family='"Liberation Sans", sans-serif' font-size="8.05" fill="#1e1e1e" dy="0.72em">C2D1</text>
<line x1="214.20" y1="451.30" x2="214.20" y2="453.90" stroke="#585858" stroke-width="1"/>
<text transform="translate(213.40,455.20) rotate(-45)" text-anchor="end" font-family='"Liberation Sans", sans-serif' font-size="8.05" fill="#1e1e1e" dy="0.72em">C2D15</text>
<rect x="233.50" y="335.00" width="89.00" height="16.50" fill="#cfcfcf" stroke="#5e5e5e" stroke-width="1"/>
<text x="278.80" y="345.75" text-anchor="middle" font-family='"Liberation Sans", sans-serif' font-size="7.9" fill="#1e1e1e">Tuvusertib 130 mg QD</text>
<line x1="233.50" y1="362.70" x2="323.50" y2="362.70" stroke="#dcdcdc" stroke-width="1.1"/>
<line x1="233.50" y1="390.50" x2="323.50" y2="390.50" stroke="#dcdcdc" stroke-width="1.1"/>
<line x1="233.50" y1="418.40" x2="323.50" y2="418.40" stroke="#dcdcdc" stroke-width="1.1"/>
<line x1="233.50" y1="376.60" x2="323.50" y2="376.60" stroke="#dcdcdc" stroke-width="1.1"/>
<line x1="233.50" y1="404.50" x2="323.50" y2="404.50" stroke="#dcdcdc" stroke-width="1.1"/>
<line x1="233.50" y1="432.30" x2="323.50" y2="432.30" stroke="#dcdcdc" stroke-width="1.1"/>
<line x1="242.00" y1="418.70" x2="256.00" y2="418.70" stroke="#1a1a1a" stroke-width="1.3"/>
<text transform="translate(249.00,417.50) scale(0.87,1)" text-anchor="middle" font-family='"Liberation Sans", sans-serif' font-size="6.6" fill="#1e1e1e"><tspan font-style="italic">n</tspan> = 8</text>
<line x1="270.40" y1="414.90" x2="270.40" y2="424.40" stroke="#333" stroke-width="1"/>
<line x1="270.40" y1="434.40" x2="270.40" y2="441.20" stroke="#333" stroke-width="1"/>
<rect x="263.30" y="424.40" width="14.20" height="10.00" fill="#7cb928" stroke="#2c3d10" stroke-width="1"/>
<line x1="263.30" y1="431.00" x2="277.50" y2="431.00" stroke="#1e2e08" stroke-width="1.5"/>
<text transform="translate(270.40,413.70) scale(0.87,1)" text-anchor="middle" font-family='"Liberation Sans", sans-serif' font-size="6.6" fill="#1e1e1e"><tspan font-style="italic">n</tspan> = 7</text>
<line x1="291.35" y1="415.40" x2="291.35" y2="423.20" stroke="#333" stroke-width="1"/>
<line x1="291.35" y1="436.00" x2="291.35" y2="438.20" stroke="#333" stroke-width="1"/>
<rect x="284.50" y="423.20" width="13.70" height="12.80" fill="#26b5be" stroke="#0f3f44" stroke-width="1"/>
<line x1="284.50" y1="429.10" x2="298.20" y2="429.10" stroke="#08333a" stroke-width="1.5"/>
<text transform="translate(291.35,414.30) scale(0.87,1)" text-anchor="middle" font-family='"Liberation Sans", sans-serif' font-size="6.6" fill="#1e1e1e"><tspan font-style="italic">n</tspan> = 7</text>
<line x1="312.40" y1="379.40" x2="312.40" y2="395.30" stroke="#333" stroke-width="1"/>
<line x1="312.40" y1="421.30" x2="312.40" y2="431.30" stroke="#333" stroke-width="1"/>
<rect x="305.80" y="395.30" width="13.20" height="26.00" fill="#a485c4" stroke="#3a2650" stroke-width="1"/>
<line x1="305.80" y1="410.90" x2="319.00" y2="410.90" stroke="#2a0f40" stroke-width="1.5"/>
<text transform="translate(312.40,379.10) scale(0.87,1)" text-anchor="middle" font-family='"Liberation Sans", sans-serif' font-size="6.6" fill="#1e1e1e"><tspan font-style="italic">n</tspan> = 3</text>
<line x1="233.50" y1="354.80" x2="233.50" y2="451.30" stroke="#585858" stroke-width="1.05"/>
<line x1="232.95" y1="451.30" x2="323.50" y2="451.30" stroke="#585858" stroke-width="1.05"/>
<line x1="248.40" y1="451.30" x2="248.40" y2="453.90" stroke="#585858" stroke-width="1"/>
<text transform="translate(247.60,455.20) rotate(-45)" text-anchor="end" font-family='"Liberation Sans", sans-serif' font-size="8.05" fill="#1e1e1e" dy="0.72em">C1D1</text>
<line x1="269.70" y1="451.30" x2="269.70" y2="453.90" stroke="#585858" stroke-width="1"/>
<text transform="translate(268.90,455.20) rotate(-45)" text-anchor="end" font-family='"Liberation Sans", sans-serif' font-size="8.05" fill="#1e1e1e" dy="0.72em">C1D15</text>
<line x1="290.90" y1="451.30" x2="290.90" y2="453.90" stroke="#585858" stroke-width="1"/>
<text transform="translate(290.10,455.20) rotate(-45)" text-anchor="end" font-family='"Liberation Sans", sans-serif' font-size="8.05" fill="#1e1e1e" dy="0.72em">C2D1</text>
<line x1="312.20" y1="451.30" x2="312.20" y2="453.90" stroke="#585858" stroke-width="1"/>
<text transform="translate(311.40,455.20) rotate(-45)" text-anchor="end" font-family='"Liberation Sans", sans-serif' font-size="8.05" fill="#1e1e1e" dy="0.72em">C2D15</text>
<rect x="331.50" y="335.00" width="89.00" height="16.50" fill="#cfcfcf" stroke="#5e5e5e" stroke-width="1"/>
<text x="376.80" y="345.75" text-anchor="middle" font-family='"Liberation Sans", sans-serif' font-size="7.9" fill="#1e1e1e">Tuvusertib 180 mg QD</text>
<line x1="331.50" y1="362.70" x2="421.50" y2="362.70" stroke="#dcdcdc" stroke-width="1.1"/>
<line x1="331.50" y1="390.50" x2="421.50" y2="390.50" stroke="#dcdcdc" stroke-width="1.1"/>
<line x1="331.50" y1="418.40" x2="421.50" y2="418.40" stroke="#dcdcdc" stroke-width="1.1"/>
<line x1="331.50" y1="376.60" x2="421.50" y2="376.60" stroke="#dcdcdc" stroke-width="1.1"/>
<line x1="331.50" y1="404.50" x2="421.50" y2="404.50" stroke="#dcdcdc" stroke-width="1.1"/>
<line x1="331.50" y1="432.30" x2="421.50" y2="432.30" stroke="#dcdcdc" stroke-width="1.1"/>
<line x1="341.90" y1="418.40" x2="356.10" y2="418.40" stroke="#1a1a1a" stroke-width="1.3"/>
<text transform="translate(349.00,417.30) scale(0.87,1)" text-anchor="middle" font-family='"Liberation Sans", sans-serif' font-size="6.6" fill="#1e1e1e"><tspan font-style="italic">n</tspan> = 11</text>
<line x1="370.35" y1="407.70" x2="370.35" y2="416.40" stroke="#333" stroke-width="1"/>
<line x1="370.35" y1="431.40" x2="370.35" y2="436.60" stroke="#333" stroke-width="1"/>
<rect x="363.50" y="416.40" width="13.70" height="15.00" fill="#7cb928" stroke="#2c3d10" stroke-width="1"/>
<line x1="363.50" y1="422.20" x2="377.20" y2="422.20" stroke="#1e2e08" stroke-width="1.5"/>
<text transform="translate(370.35,407.80) scale(0.87,1)" text-anchor="middle" font-family='"Liberation Sans", sans-serif' font-size="6.6" fill="#1e1e1e"><tspan font-style="italic">n</tspan> = 9</text>
<line x1="391.55" y1="415.00" x2="391.55" y2="418.10" stroke="#333" stroke-width="1"/>
<line x1="391.55" y1="430.00" x2="391.55" y2="438.30" stroke="#333" stroke-width="1"/>
<rect x="384.60" y="418.10" width="13.90" height="11.90" fill="#26b5be" stroke="#0f3f44" stroke-width="1"/>
<line x1="384.60" y1="421.90" x2="398.50" y2="421.90" stroke="#08333a" stroke-width="1.5"/>
<text transform="translate(391.55,414.20) scale(0.87,1)" text-anchor="middle" font-family='"Liberation Sans", sans-serif' font-size="6.6" fill="#1e1e1e"><tspan font-style="italic">n</tspan> = 7</text>
<line x1="412.75" y1="397.70" x2="412.75" y2="414.10" stroke="#333" stroke-width="1"/>
<line x1="412.75" y1="425.90" x2="412.75" y2="431.40" stroke="#333" stroke-width="1"/>
<rect x="405.90" y="414.10" width="13.70" height="11.80" fill="#a485c4" stroke="#3a2650" stroke-width="1"/>
<line x1="405.90" y1="421.60" x2="419.60" y2="421.60" stroke="#2a0f40" stroke-width="1.5"/>
<text transform="translate(412.75,397.00) scale(0.87,1)" text-anchor="middle" font-family='"Liberation Sans", sans-serif' font-size="6.6" fill="#1e1e1e"><tspan font-style="italic">n</tspan> = 6</text>
<line x1="331.50" y1="354.80" x2="331.50" y2="451.30" stroke="#585858" stroke-width="1.05"/>
<line x1="330.95" y1="451.30" x2="421.50" y2="451.30" stroke="#585858" stroke-width="1.05"/>
<line x1="346.40" y1="451.30" x2="346.40" y2="453.90" stroke="#585858" stroke-width="1"/>
<text transform="translate(345.60,455.20) rotate(-45)" text-anchor="end" font-family='"Liberation Sans", sans-serif' font-size="8.05" fill="#1e1e1e" dy="0.72em">C1D1</text>
<line x1="367.70" y1="451.30" x2="367.70" y2="453.90" stroke="#585858" stroke-width="1"/>
<text transform="translate(366.90,455.20) rotate(-45)" text-anchor="end" font-family='"Liberation Sans", sans-serif' font-size="8.05" fill="#1e1e1e" dy="0.72em">C1D15</text>
<line x1="388.90" y1="451.30" x2="388.90" y2="453.90" stroke="#585858" stroke-width="1"/>
<text transform="translate(388.10,455.20) rotate(-45)" text-anchor="end" font-family='"Liberation Sans", sans-serif' font-size="8.05" fill="#1e1e1e" dy="0.72em">C2D1</text>
<line x1="410.20" y1="451.30" x2="410.20" y2="453.90" stroke="#585858" stroke-width="1"/>
<text transform="translate(409.40,455.20) rotate(-45)" text-anchor="end" font-family='"Liberation Sans", sans-serif' font-size="8.05" fill="#1e1e1e" dy="0.72em">C2D15</text>
<rect x="429.50" y="335.00" width="89.00" height="16.50" fill="#cfcfcf" stroke="#5e5e5e" stroke-width="1"/>
<text x="474.80" y="345.75" text-anchor="middle" font-family='"Liberation Sans", sans-serif' font-size="7.9" fill="#1e1e1e">Tuvusertib 220 mg QD</text>
<line x1="429.50" y1="362.70" x2="519.50" y2="362.70" stroke="#dcdcdc" stroke-width="1.1"/>
<line x1="429.50" y1="390.50" x2="519.50" y2="390.50" stroke="#dcdcdc" stroke-width="1.1"/>
<line x1="429.50" y1="418.40" x2="519.50" y2="418.40" stroke="#dcdcdc" stroke-width="1.1"/>
<line x1="429.50" y1="376.60" x2="519.50" y2="376.60" stroke="#dcdcdc" stroke-width="1.1"/>
<line x1="429.50" y1="404.50" x2="519.50" y2="404.50" stroke="#dcdcdc" stroke-width="1.1"/>
<line x1="429.50" y1="432.30" x2="519.50" y2="432.30" stroke="#dcdcdc" stroke-width="1.1"/>
<line x1="437.70" y1="418.40" x2="452.00" y2="418.40" stroke="#1a1a1a" stroke-width="1.3"/>
<text transform="translate(444.85,416.90) scale(0.87,1)" text-anchor="middle" font-family='"Liberation Sans", sans-serif' font-size="6.6" fill="#1e1e1e"><tspan font-style="italic">n</tspan> = 3</text>
<line x1="465.85" y1="419.40" x2="465.85" y2="425.30" stroke="#333" stroke-width="1"/>
<line x1="465.85" y1="437.10" x2="465.85" y2="441.40" stroke="#333" stroke-width="1"/>
<rect x="458.60" y="425.30" width="14.50" height="11.80" fill="#7cb928" stroke="#2c3d10" stroke-width="1"/>
<line x1="458.60" y1="431.40" x2="473.10" y2="431.40" stroke="#1e2e08" stroke-width="1.5"/>
<text transform="translate(465.85,418.60) scale(0.87,1)" text-anchor="middle" font-family='"Liberation Sans", sans-serif' font-size="6.6" fill="#1e1e1e"><tspan font-style="italic">n</tspan> = 3</text>
<line x1="487.20" y1="423.30" x2="487.20" y2="426.20" stroke="#333" stroke-width="1"/>
<line x1="487.20" y1="434.80" x2="487.20" y2="438.80" stroke="#333" stroke-width="1"/>
<rect x="480.20" y="426.20" width="14.00" height="8.60" fill="#26b5be" stroke="#0f3f44" stroke-width="1"/>
<line x1="480.20" y1="430.20" x2="494.20" y2="430.20" stroke="#08333a" stroke-width="1.5"/>
<text transform="translate(487.20,422.40) scale(0.87,1)" text-anchor="middle" font-family='"Liberation Sans", sans-serif' font-size="6.6" fill="#1e1e1e"><tspan font-style="italic">n</tspan> = 3</text>
<line x1="508.40" y1="424.10" x2="508.40" y2="425.00" stroke="#333" stroke-width="1"/>
<line x1="508.40" y1="428.60" x2="508.40" y2="429.60" stroke="#333" stroke-width="1"/>
<rect x="501.40" y="425.00" width="14.00" height="3.60" fill="#3c3c44" stroke="#262626" stroke-width="1"/>
<line x1="501.40" y1="426.80" x2="515.40" y2="426.80" stroke="#1a1a1a" stroke-width="1.5"/>
<text transform="translate(508.40,423.30) scale(0.87,1)" text-anchor="middle" font-family='"Liberation Sans", sans-serif' font-size="6.6" fill="#1e1e1e"><tspan font-style="italic">n</tspan> = 2</text>
<line x1="429.50" y1="354.80" x2="429.50" y2="451.30" stroke="#585858" stroke-width="1.05"/>
<line x1="428.95" y1="451.30" x2="519.50" y2="451.30" stroke="#585858" stroke-width="1.05"/>
<line x1="444.40" y1="451.30" x2="444.40" y2="453.90" stroke="#585858" stroke-width="1"/>
<text transform="translate(443.60,455.20) rotate(-45)" text-anchor="end" font-family='"Liberation Sans", sans-serif' font-size="8.05" fill="#1e1e1e" dy="0.72em">C1D1</text>
<line x1="465.70" y1="451.30" x2="465.70" y2="453.90" stroke="#585858" stroke-width="1"/>
<text transform="translate(464.90,455.20) rotate(-45)" text-anchor="end" font-family='"Liberation Sans", sans-serif' font-size="8.05" fill="#1e1e1e" dy="0.72em">C1D15</text>
<line x1="486.90" y1="451.30" x2="486.90" y2="453.90" stroke="#585858" stroke-width="1"/>
<text transform="translate(486.10,455.20) rotate(-45)" text-anchor="end" font-family='"Liberation Sans", sans-serif' font-size="8.05" fill="#1e1e1e" dy="0.72em">C2D1</text>
<line x1="508.20" y1="451.30" x2="508.20" y2="453.90" stroke="#585858" stroke-width="1"/>
<text transform="translate(507.40,455.20) rotate(-45)" text-anchor="end" font-family='"Liberation Sans", sans-serif' font-size="8.05" fill="#1e1e1e" dy="0.72em">C2D15</text>
<rect x="37.50" y="492.30" width="114.20" height="19.60" fill="#cfcfcf" stroke="#5e5e5e" stroke-width="1"/>
<text x="94.60" y="500.30" text-anchor="middle" font-family='"Liberation Sans", sans-serif' font-size="7.9" fill="#1e1e1e">Tuvusertib 270 mg</text>
<text x="94.60" y="509.70" text-anchor="middle" font-family='"Liberation Sans", sans-serif' font-size="7.9" fill="#1e1e1e">QD</text>
<line x1="37.50" y1="516.20" x2="151.90" y2="516.20" stroke="#dcdcdc" stroke-width="1.1"/>
<line x1="37.50" y1="536.40" x2="151.90" y2="536.40" stroke="#dcdcdc" stroke-width="1.1"/>
<line x1="37.50" y1="556.50" x2="151.90" y2="556.50" stroke="#dcdcdc" stroke-width="1.1"/>
<line x1="37.50" y1="576.50" x2="151.90" y2="576.50" stroke="#dcdcdc" stroke-width="1.1"/>
<line x1="37.50" y1="596.70" x2="151.90" y2="596.70" stroke="#dcdcdc" stroke-width="1.1"/>
<line x1="52.50" y1="576.50" x2="66.90" y2="576.50" stroke="#1a1a1a" stroke-width="1.3"/>
<text transform="translate(59.70,574.60) scale(0.87,1)" text-anchor="middle" font-family='"Liberation Sans", sans-serif' font-size="6.6" fill="#1e1e1e"><tspan font-style="italic">n</tspan> = 3</text>
<line x1="77.30" y1="592.00" x2="91.60" y2="592.00" stroke="#1a1a1a" stroke-width="1.3"/>
<text transform="translate(84.45,590.90) scale(0.87,1)" text-anchor="middle" font-family='"Liberation Sans", sans-serif' font-size="6.6" fill="#1e1e1e"><tspan font-style="italic">n</tspan> = 1</text>
<line x1="108.70" y1="597.60" x2="108.70" y2="599.30" stroke="#333" stroke-width="1"/>
<line x1="108.70" y1="602.70" x2="108.70" y2="604.50" stroke="#333" stroke-width="1"/>
<rect x="101.70" y="599.30" width="14.00" height="3.40" fill="#2a6a6c" stroke="#262626" stroke-width="1"/>
<line x1="101.70" y1="601.00" x2="115.70" y2="601.00" stroke="#1a1a1a" stroke-width="1.5"/>
<text transform="translate(108.70,597.10) scale(0.87,1)" text-anchor="middle" font-family='"Liberation Sans", sans-serif' font-size="6.6" fill="#1e1e1e"><tspan font-style="italic">n</tspan> = 2</text>
<line x1="133.50" y1="580.20" x2="133.50" y2="581.10" stroke="#333" stroke-width="1"/>
<line x1="133.50" y1="584.50" x2="133.50" y2="586.00" stroke="#333" stroke-width="1"/>
<rect x="126.50" y="581.10" width="14.00" height="3.40" fill="#4a4058" stroke="#262626" stroke-width="1"/>
<line x1="126.50" y1="582.80" x2="140.50" y2="582.80" stroke="#1a1a1a" stroke-width="1.5"/>
<text transform="translate(133.50,579.00) scale(0.87,1)" text-anchor="middle" font-family='"Liberation Sans", sans-serif' font-size="6.6" fill="#1e1e1e"><tspan font-style="italic">n</tspan> = 2</text>
<line x1="37.50" y1="515.40" x2="37.50" y2="611.90" stroke="#585858" stroke-width="1.05"/>
<line x1="36.95" y1="611.90" x2="151.90" y2="611.90" stroke="#585858" stroke-width="1.05"/>
<line x1="59.30" y1="611.90" x2="59.30" y2="614.50" stroke="#585858" stroke-width="1"/>
<text transform="translate(58.50,615.80) rotate(-45)" text-anchor="end" font-family='"Liberation Sans", sans-serif' font-size="8.05" fill="#1e1e1e" dy="0.72em">C1D1</text>
<line x1="84.00" y1="611.90" x2="84.00" y2="614.50" stroke="#585858" stroke-width="1"/>
<text transform="translate(83.20,615.80) rotate(-45)" text-anchor="end" font-family='"Liberation Sans", sans-serif' font-size="8.05" fill="#1e1e1e" dy="0.72em">C1D15</text>
<line x1="108.60" y1="611.90" x2="108.60" y2="614.50" stroke="#585858" stroke-width="1"/>
<text transform="translate(107.80,615.80) rotate(-45)" text-anchor="end" font-family='"Liberation Sans", sans-serif' font-size="8.05" fill="#1e1e1e" dy="0.72em">C2D1</text>
<line x1="133.40" y1="611.90" x2="133.40" y2="614.50" stroke="#585858" stroke-width="1"/>
<text transform="translate(132.60,615.80) rotate(-45)" text-anchor="end" font-family='"Liberation Sans", sans-serif' font-size="8.05" fill="#1e1e1e" dy="0.72em">C2D15</text>
<line x1="34.70" y1="516.20" x2="37.50" y2="516.20" stroke="#585858" stroke-width="1"/>
<text x="33.10" y="519.05" text-anchor="end" font-family='"Liberation Sans", sans-serif' font-size="8.0" fill="#1e1e1e">200</text>
<line x1="34.70" y1="536.40" x2="37.50" y2="536.40" stroke="#585858" stroke-width="1"/>
<text x="33.10" y="539.25" text-anchor="end" font-family='"Liberation Sans", sans-serif' font-size="8.0" fill="#1e1e1e">150</text>
<line x1="34.70" y1="556.50" x2="37.50" y2="556.50" stroke="#585858" stroke-width="1"/>
<text x="33.10" y="559.35" text-anchor="end" font-family='"Liberation Sans", sans-serif' font-size="8.0" fill="#1e1e1e">100</text>
<line x1="34.70" y1="576.50" x2="37.50" y2="576.50" stroke="#585858" stroke-width="1"/>
<text x="33.10" y="579.35" text-anchor="end" font-family='"Liberation Sans", sans-serif' font-size="8.0" fill="#1e1e1e">0</text>
<line x1="34.70" y1="596.70" x2="37.50" y2="596.70" stroke="#585858" stroke-width="1"/>
<text x="33.10" y="599.55" text-anchor="end" font-family='"Liberation Sans", sans-serif' font-size="8.0" fill="#1e1e1e">−50</text>
<text transform="translate(8.1,563.35) rotate(-90)" text-anchor="middle" font-family='"Liberation Sans", sans-serif' font-size="8.0" fill="#1e1e1e">Relative change (%)</text>
<rect x="160.40" y="492.30" width="114.20" height="19.60" fill="#cfcfcf" stroke="#5e5e5e" stroke-width="1"/>
<text x="217.50" y="500.30" text-anchor="middle" font-family='"Liberation Sans", sans-serif' font-size="7.9" fill="#1e1e1e">Tuvusertib 150 mg BID,</text>
<text x="217.50" y="509.70" text-anchor="middle" font-family='"Liberation Sans", sans-serif' font-size="7.9" fill="#1e1e1e">4 d on/3 d off</text>
<line x1="160.40" y1="516.20" x2="274.80" y2="516.20" stroke="#dcdcdc" stroke-width="1.1"/>
<line x1="160.40" y1="536.40" x2="274.80" y2="536.40" stroke="#dcdcdc" stroke-width="1.1"/>
<line x1="160.40" y1="556.50" x2="274.80" y2="556.50" stroke="#dcdcdc" stroke-width="1.1"/>
<line x1="160.40" y1="576.50" x2="274.80" y2="576.50" stroke="#dcdcdc" stroke-width="1.1"/>
<line x1="160.40" y1="596.70" x2="274.80" y2="596.70" stroke="#dcdcdc" stroke-width="1.1"/>
<line x1="175.00" y1="576.50" x2="189.90" y2="576.50" stroke="#1a1a1a" stroke-width="1.3"/>
<text transform="translate(182.45,574.60) scale(0.87,1)" text-anchor="middle" font-family='"Liberation Sans", sans-serif' font-size="6.6" fill="#1e1e1e"><tspan font-style="italic">n</tspan> = 4</text>
<line x1="207.00" y1="593.70" x2="207.00" y2="596.60" stroke="#333" stroke-width="1"/>
<rect x="200.30" y="596.60" width="13.40" height="4.40" fill="#7cb928" stroke="#2c3d10" stroke-width="1"/>
<line x1="200.30" y1="598.70" x2="213.70" y2="598.70" stroke="#1e2e08" stroke-width="1.5"/>
<text transform="translate(207.00,593.10) scale(0.87,1)" text-anchor="middle" font-family='"Liberation Sans", sans-serif' font-size="6.6" fill="#1e1e1e"><tspan font-style="italic">n</tspan> = 3</text>
<line x1="231.60" y1="579.40" x2="231.60" y2="583.40" stroke="#333" stroke-width="1"/>
<line x1="231.60" y1="599.30" x2="231.60" y2="609.40" stroke="#333" stroke-width="1"/>
<rect x="224.70" y="583.40" width="13.80" height="15.90" fill="#26b5be" stroke="#0f3f44" stroke-width="1"/>
<line x1="224.70" y1="588.10" x2="238.50" y2="588.10" stroke="#08333a" stroke-width="1.5"/>
<text transform="translate(231.60,578.80) scale(0.87,1)" text-anchor="middle" font-family='"Liberation Sans", sans-serif' font-size="6.6" fill="#1e1e1e"><tspan font-style="italic">n</tspan> = 3</text>
<line x1="256.25" y1="570.50" x2="256.25" y2="578.90" stroke="#333" stroke-width="1"/>
<line x1="256.25" y1="602.60" x2="256.25" y2="604.80" stroke="#333" stroke-width="1"/>
<rect x="249.00" y="578.90" width="14.50" height="23.70" fill="#a485c4" stroke="#3a2650" stroke-width="1"/>
<line x1="249.00" y1="592.00" x2="263.50" y2="592.00" stroke="#2a0f40" stroke-width="1.5"/>
<text transform="translate(256.25,569.50) scale(0.87,1)" text-anchor="middle" font-family='"Liberation Sans", sans-serif' font-size="6.6" fill="#1e1e1e"><tspan font-style="italic">n</tspan> = 4</text>
<line x1="160.40" y1="515.40" x2="160.40" y2="611.90" stroke="#585858" stroke-width="1.05"/>
<line x1="159.85" y1="611.90" x2="274.80" y2="611.90" stroke="#585858" stroke-width="1.05"/>
<line x1="182.20" y1="611.90" x2="182.20" y2="614.50" stroke="#585858" stroke-width="1"/>
<text transform="translate(181.40,615.80) rotate(-45)" text-anchor="end" font-family='"Liberation Sans", sans-serif' font-size="8.05" fill="#1e1e1e" dy="0.72em">C1D1</text>
<line x1="206.90" y1="611.90" x2="206.90" y2="614.50" stroke="#585858" stroke-width="1"/>
<text transform="translate(206.10,615.80) rotate(-45)" text-anchor="end" font-family='"Liberation Sans", sans-serif' font-size="8.05" fill="#1e1e1e" dy="0.72em">C1D15</text>
<line x1="231.50" y1="611.90" x2="231.50" y2="614.50" stroke="#585858" stroke-width="1"/>
<text transform="translate(230.70,615.80) rotate(-45)" text-anchor="end" font-family='"Liberation Sans", sans-serif' font-size="8.05" fill="#1e1e1e" dy="0.72em">C2D1</text>
<line x1="256.30" y1="611.90" x2="256.30" y2="614.50" stroke="#585858" stroke-width="1"/>
<text transform="translate(255.50,615.80) rotate(-45)" text-anchor="end" font-family='"Liberation Sans", sans-serif' font-size="8.05" fill="#1e1e1e" dy="0.72em">C2D15</text>
<rect x="282.50" y="492.30" width="114.20" height="19.60" fill="#cfcfcf" stroke="#5e5e5e" stroke-width="1"/>
<text x="339.60" y="500.30" text-anchor="middle" font-family='"Liberation Sans", sans-serif' font-size="7.9" fill="#1e1e1e">Tuvusertib 180 mg QD,</text>
<text x="339.60" y="509.70" text-anchor="middle" font-family='"Liberation Sans", sans-serif' font-size="7.9" fill="#1e1e1e">2 w on/1 w off</text>
<line x1="282.50" y1="516.20" x2="396.90" y2="516.20" stroke="#dcdcdc" stroke-width="1.1"/>
<line x1="282.50" y1="536.40" x2="396.90" y2="536.40" stroke="#dcdcdc" stroke-width="1.1"/>
<line x1="282.50" y1="556.50" x2="396.90" y2="556.50" stroke="#dcdcdc" stroke-width="1.1"/>
<line x1="282.50" y1="576.50" x2="396.90" y2="576.50" stroke="#dcdcdc" stroke-width="1.1"/>
<line x1="282.50" y1="596.70" x2="396.90" y2="596.70" stroke="#dcdcdc" stroke-width="1.1"/>
<line x1="297.00" y1="576.50" x2="311.90" y2="576.50" stroke="#1a1a1a" stroke-width="1.3"/>
<text transform="translate(304.45,575.00) scale(0.87,1)" text-anchor="middle" font-family='"Liberation Sans", sans-serif' font-size="6.6" fill="#1e1e1e"><tspan font-style="italic">n</tspan> = 7</text>
<line x1="328.90" y1="570.50" x2="328.90" y2="579.40" stroke="#333" stroke-width="1"/>
<rect x="321.90" y="579.40" width="14.00" height="12.60" fill="#7cb928" stroke="#2c3d10" stroke-width="1"/>
<line x1="321.90" y1="588.70" x2="335.90" y2="588.70" stroke="#1e2e08" stroke-width="1.5"/>
<text transform="translate(328.90,570.00) scale(0.87,1)" text-anchor="middle" font-family='"Liberation Sans", sans-serif' font-size="6.6" fill="#1e1e1e"><tspan font-style="italic">n</tspan> = 5</text>
<line x1="353.60" y1="557.30" x2="353.60" y2="563.90" stroke="#333" stroke-width="1"/>
<line x1="353.60" y1="576.50" x2="353.60" y2="588.20" stroke="#333" stroke-width="1"/>
<rect x="346.70" y="563.90" width="13.80" height="12.60" fill="#26b5be" stroke="#0f3f44" stroke-width="1"/>
<line x1="346.70" y1="571.00" x2="360.50" y2="571.00" stroke="#08333a" stroke-width="1.5"/>
<text transform="translate(353.60,556.70) scale(0.87,1)" text-anchor="middle" font-family='"Liberation Sans", sans-serif' font-size="6.6" fill="#1e1e1e"><tspan font-style="italic">n</tspan> = 5</text>
<line x1="378.60" y1="578.00" x2="378.60" y2="580.30" stroke="#333" stroke-width="1"/>
<line x1="378.60" y1="588.70" x2="378.60" y2="599.30" stroke="#333" stroke-width="1"/>
<rect x="371.70" y="580.30" width="13.80" height="8.40" fill="#a485c4" stroke="#3a2650" stroke-width="1"/>
<line x1="371.70" y1="583.10" x2="385.50" y2="583.10" stroke="#2a0f40" stroke-width="1.5"/>
<text transform="translate(378.60,577.70) scale(0.87,1)" text-anchor="middle" font-family='"Liberation Sans", sans-serif' font-size="6.6" fill="#1e1e1e"><tspan font-style="italic">n</tspan> = 4</text>
<line x1="282.50" y1="515.40" x2="282.50" y2="611.90" stroke="#585858" stroke-width="1.05"/>
<line x1="281.95" y1="611.90" x2="396.90" y2="611.90" stroke="#585858" stroke-width="1.05"/>
<line x1="304.30" y1="611.90" x2="304.30" y2="614.50" stroke="#585858" stroke-width="1"/>
<text transform="translate(303.50,615.80) rotate(-45)" text-anchor="end" font-family='"Liberation Sans", sans-serif' font-size="8.05" fill="#1e1e1e" dy="0.72em">C1D1</text>
<line x1="329.00" y1="611.90" x2="329.00" y2="614.50" stroke="#585858" stroke-width="1"/>
<text transform="translate(328.20,615.80) rotate(-45)" text-anchor="end" font-family='"Liberation Sans", sans-serif' font-size="8.05" fill="#1e1e1e" dy="0.72em">C1D15</text>
<line x1="353.60" y1="611.90" x2="353.60" y2="614.50" stroke="#585858" stroke-width="1"/>
<text transform="translate(352.80,615.80) rotate(-45)" text-anchor="end" font-family='"Liberation Sans", sans-serif' font-size="8.05" fill="#1e1e1e" dy="0.72em">C2D1</text>
<line x1="378.40" y1="611.90" x2="378.40" y2="614.50" stroke="#585858" stroke-width="1"/>
<text transform="translate(377.60,615.80) rotate(-45)" text-anchor="end" font-family='"Liberation Sans", sans-serif' font-size="8.05" fill="#1e1e1e" dy="0.72em">C2D15</text>
<rect x="404.40" y="492.30" width="114.20" height="19.60" fill="#cfcfcf" stroke="#5e5e5e" stroke-width="1"/>
<text x="461.50" y="500.30" text-anchor="middle" font-family='"Liberation Sans", sans-serif' font-size="7.9" fill="#1e1e1e">Tuvusertib 220 mg QD,</text>
<text x="461.50" y="509.70" text-anchor="middle" font-family='"Liberation Sans", sans-serif' font-size="7.9" fill="#1e1e1e">2 w on/1 w off</text>
<line x1="404.40" y1="516.20" x2="518.80" y2="516.20" stroke="#dcdcdc" stroke-width="1.1"/>
<line x1="404.40" y1="536.40" x2="518.80" y2="536.40" stroke="#dcdcdc" stroke-width="1.1"/>
<line x1="404.40" y1="556.50" x2="518.80" y2="556.50" stroke="#dcdcdc" stroke-width="1.1"/>
<line x1="404.40" y1="576.50" x2="518.80" y2="576.50" stroke="#dcdcdc" stroke-width="1.1"/>
<line x1="404.40" y1="596.70" x2="518.80" y2="596.70" stroke="#dcdcdc" stroke-width="1.1"/>
<line x1="419.50" y1="576.40" x2="433.90" y2="576.40" stroke="#1a1a1a" stroke-width="1.3"/>
<text transform="translate(426.70,575.00) scale(0.87,1)" text-anchor="middle" font-family='"Liberation Sans", sans-serif' font-size="6.6" fill="#1e1e1e"><tspan font-style="italic">n</tspan> = 6</text>
<line x1="451.20" y1="603.00" x2="451.20" y2="610.70" stroke="#333" stroke-width="1"/>
<rect x="444.30" y="595.20" width="13.80" height="7.80" fill="#7cb928" stroke="#2c3d10" stroke-width="1"/>
<line x1="444.30" y1="597.40" x2="458.10" y2="597.40" stroke="#1e2e08" stroke-width="1.5"/>
<circle cx="451.10" cy="580.40" r="1.15" fill="#111"/>
<text transform="translate(451.20,593.50) scale(0.87,1)" text-anchor="middle" font-family='"Liberation Sans", sans-serif' font-size="6.6" fill="#1e1e1e"><tspan font-style="italic">n</tspan> = 5</text>
<line x1="475.90" y1="541.50" x2="475.90" y2="549.90" stroke="#333" stroke-width="1"/>
<line x1="475.90" y1="562.00" x2="475.90" y2="563.60" stroke="#333" stroke-width="1"/>
<rect x="469.10" y="549.90" width="13.60" height="12.10" fill="#26b5be" stroke="#0f3f44" stroke-width="1"/>
<line x1="469.10" y1="559.80" x2="482.70" y2="559.80" stroke="#08333a" stroke-width="1.5"/>
<text transform="translate(475.90,539.60) scale(0.87,1)" text-anchor="middle" font-family='"Liberation Sans", sans-serif' font-size="6.6" fill="#1e1e1e"><tspan font-style="italic">n</tspan> = 3</text>
<line x1="493.60" y1="592.60" x2="508.00" y2="592.60" stroke="#1a1a1a" stroke-width="1.3"/>
<text transform="translate(500.80,591.30) scale(0.87,1)" text-anchor="middle" font-family='"Liberation Sans", sans-serif' font-size="6.6" fill="#1e1e1e"><tspan font-style="italic">n</tspan> = 3</text>
<line x1="404.40" y1="515.40" x2="404.40" y2="611.90" stroke="#585858" stroke-width="1.05"/>
<line x1="403.85" y1="611.90" x2="518.80" y2="611.90" stroke="#585858" stroke-width="1.05"/>
<line x1="426.20" y1="611.90" x2="426.20" y2="614.50" stroke="#585858" stroke-width="1"/>
<text transform="translate(425.40,615.80) rotate(-45)" text-anchor="end" font-family='"Liberation Sans", sans-serif' font-size="8.05" fill="#1e1e1e" dy="0.72em">C1D1</text>
<line x1="450.90" y1="611.90" x2="450.90" y2="614.50" stroke="#585858" stroke-width="1"/>
<text transform="translate(450.10,615.80) rotate(-45)" text-anchor="end" font-family='"Liberation Sans", sans-serif' font-size="8.05" fill="#1e1e1e" dy="0.72em">C1D15</text>
<line x1="475.50" y1="611.90" x2="475.50" y2="614.50" stroke="#585858" stroke-width="1"/>
<text transform="translate(474.70,615.80) rotate(-45)" text-anchor="end" font-family='"Liberation Sans", sans-serif' font-size="8.05" fill="#1e1e1e" dy="0.72em">C2D1</text>
<line x1="500.30" y1="611.90" x2="500.30" y2="614.50" stroke="#585858" stroke-width="1"/>
<text transform="translate(499.50,615.80) rotate(-45)" text-anchor="end" font-family='"Liberation Sans", sans-serif' font-size="8.05" fill="#1e1e1e" dy="0.72em">C2D15</text>
</svg>
</body></html>
